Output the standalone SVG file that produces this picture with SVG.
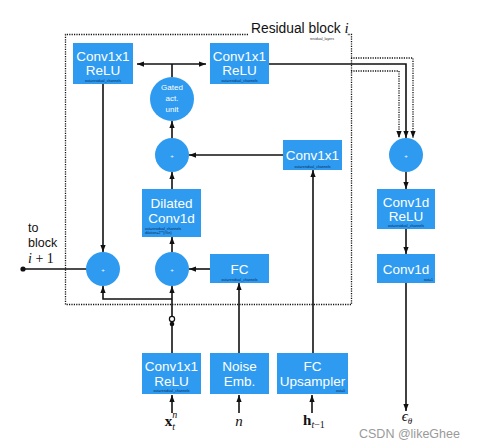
<svg xmlns="http://www.w3.org/2000/svg" width="478" height="446" viewBox="0 0 478 446">
<style>
.box{fill:#2E9BF0}
.t{font-family:"Liberation Sans",Arial,sans-serif;fill:#fff;text-anchor:middle}
.big{font-size:13.5px}
.sm{font-size:3.6px;fill:#0a2a55}
.smr{font-size:3.6px;fill:#0a2a55;text-anchor:end}
.ln{stroke:#111;stroke-width:1.6;fill:none}
.dot{stroke:#111;stroke-width:1.3;fill:none;stroke-dasharray:1.2,1.2}
.m{font-family:"Liberation Serif","Times New Roman",serif;fill:#111;text-anchor:middle}
</style>
<defs>
<marker id="ah" viewBox="0 0 8 6" refX="8" refY="3" markerWidth="7" markerHeight="6" markerUnits="userSpaceOnUse" orient="auto-start-reverse">
<path d="M0,0 L8,3 L0,6 z" fill="#111"/>
</marker>
</defs>
<rect width="478" height="446" fill="#fff"/>

<g id="residual-block-frame">
<path class="dot" d="M248,34.5 H65.5 V304.5 H351.5 V34.5 H347"/>
<text x="251" y="33" font-family="Liberation Sans,Arial,sans-serif" font-size="13.8" fill="#111">Residual block <tspan font-family="Liberation Serif,serif" font-style="italic" font-size="15">i</tspan></text>
<text x="322" y="39.5" font-family="Liberation Sans,Arial,sans-serif" font-size="3.6" fill="#333" text-anchor="middle">residual_layers</text>
</g>

<g id="connectors">
<line class="ln" x1="137" y1="64" x2="206" y2="64" marker-start="url(#ah)" marker-end="url(#ah)"/>
<line class="ln" x1="172" y1="64" x2="172" y2="77"/>
<line class="ln" x1="172" y1="138" x2="172" y2="121" marker-end="url(#ah)"/>
<line class="ln" x1="283" y1="155" x2="189" y2="155" marker-end="url(#ah)"/>
<line class="ln" x1="172" y1="189" x2="172" y2="172" marker-end="url(#ah)"/>
<line class="ln" x1="172" y1="252" x2="172" y2="237" marker-end="url(#ah)"/>
<line class="ln" x1="210" y1="269" x2="189" y2="269" marker-end="url(#ah)"/>
<line class="ln" x1="103" y1="84" x2="103" y2="252" marker-end="url(#ah)"/>
<line class="ln" x1="87" y1="269" x2="23" y2="269"/>
<circle cx="23" cy="269" r="2.6" fill="#111"/>
<line class="ln" x1="172" y1="353" x2="172" y2="324"/>
<circle cx="172" cy="324" r="2.3" fill="#111"/>
<circle cx="172" cy="319" r="2.6" fill="#fff" stroke="#111" stroke-width="1.2"/>
<line class="ln" x1="172" y1="316.4" x2="172" y2="286" marker-end="url(#ah)"/>
<path class="ln" d="M172,299 H103 V286" marker-end="url(#ah)"/>
<line class="ln" x1="239" y1="353" x2="239" y2="283" marker-end="url(#ah)"/>
<line class="ln" x1="313" y1="353" x2="313" y2="170" marker-end="url(#ah)"/>
<path class="ln" d="M269,64 H406 V138" marker-end="url(#ah)"/>
<path class="dot" d="M351,58 H413 V138" marker-end="url(#ah)"/>
<path class="dot" d="M351,71 H399 V138" marker-end="url(#ah)"/>
<line class="ln" x1="406" y1="172" x2="406" y2="189" marker-end="url(#ah)"/>
<line class="ln" x1="406" y1="229" x2="406" y2="254" marker-end="url(#ah)"/>
<line class="ln" x1="406" y1="283" x2="406" y2="411" marker-end="url(#ah)"/>
<line class="ln" x1="172" y1="413" x2="172" y2="395" marker-end="url(#ah)"/>
<line class="ln" x1="239" y1="413" x2="239" y2="395" marker-end="url(#ah)"/>
<line class="ln" x1="312" y1="413" x2="312" y2="395" marker-end="url(#ah)"/>
</g>

<g id="conv1x1-skip">
<rect class="box" x="73" y="43" width="60" height="41"/>
<text class="t big" x="103" y="61">Conv1x1</text>
<text class="t big" x="103" y="75">ReLU</text>
<text class="t sm" x="103" y="82">out=residual_channels</text>
</g>
<g id="conv1x1-res">
<rect class="box" x="210" y="43" width="59" height="41"/>
<text class="t big" x="239.5" y="61">Conv1x1</text>
<text class="t big" x="239.5" y="75">ReLU</text>
<text class="t sm" x="239.5" y="82">out=residual_channels</text>
</g>
<g id="gated-unit">
<circle class="box" cx="172" cy="99" r="22"/>
<text class="t" x="172" y="90" font-size="8">Gated</text>
<text class="t" x="172" y="101" font-size="8">act.</text>
<text class="t" x="172" y="112" font-size="8">unit</text>
</g>
<g id="add-upper">
<circle class="box" cx="172" cy="155" r="17"/>
<text class="t" x="172" y="157.5" font-size="6">+</text>
</g>
<g id="conv1x1-cond">
<rect class="box" x="283" y="140" width="59" height="30"/>
<text class="t big" x="312.5" y="160">Conv1x1</text>
<text class="t sm" x="312.5" y="168">out=residual_channels</text>
</g>
<g id="dilated-conv">
<rect class="box" x="142" y="189" width="59" height="48"/>
<text class="t big" x="171.5" y="208">Dilated</text>
<text class="t big" x="171.5" y="223">Conv1d</text>
<text class="sm" x="145" y="230" font-family="Liberation Sans,Arial,sans-serif">out=residual_channels</text>
<text class="sm" x="145" y="234" font-family="Liberation Sans,Arial,sans-serif">dilation=2**(i%n)</text>
</g>
<g id="add-skip">
<circle class="box" cx="103" cy="269" r="17"/>
<text class="t" x="103" y="271.5" font-size="6">+</text>
</g>
<g id="add-lower">
<circle class="box" cx="172" cy="269" r="17"/>
<text class="t" x="172" y="271.5" font-size="6">+</text>
</g>
<g id="fc">
<rect class="box" x="210" y="254" width="59" height="29"/>
<text class="t big" x="239.5" y="274">FC</text>
<text class="t sm" x="239.5" y="281">out=residual_channels</text>
</g>
<g id="to-next-block">
<text x="28" y="232" font-family="Liberation Sans,Arial,sans-serif" font-size="12.5" fill="#111">to</text>
<text x="28" y="247" font-family="Liberation Sans,Arial,sans-serif" font-size="12.5" fill="#111">block</text>
<text x="28" y="263" font-family="Liberation Serif,serif" font-size="14" fill="#111"><tspan font-style="italic">i</tspan> + 1</text>
</g>
<g id="add-out">
<circle class="box" cx="406" cy="155" r="17"/>
<text class="t" x="406" y="157.5" font-size="6">+</text>
</g>
<g id="conv1d-relu">
<rect class="box" x="377" y="189" width="58" height="40"/>
<text class="t big" x="406" y="207">Conv1d</text>
<text class="t big" x="406" y="221">ReLU</text>
<text class="t sm" x="406" y="227">out=residual_channels</text>
</g>
<g id="conv1d-out">
<rect class="box" x="377" y="254" width="58" height="29"/>
<text class="t big" x="406" y="274">Conv1d</text>
<text class="smr" x="433" y="281" font-family="Liberation Sans,Arial,sans-serif">out=1</text>
</g>
<g id="conv1x1-input">
<rect class="box" x="142" y="353" width="59" height="41"/>
<text class="t big" x="171.5" y="371">Conv1x1</text>
<text class="t big" x="171.5" y="386">ReLU</text>
<text class="t sm" x="171.5" y="392">out=residual_channels</text>
</g>
<g id="noise-emb">
<rect class="box" x="210" y="353" width="59" height="41"/>
<text class="t big" x="239.5" y="371">Noise</text>
<text class="t big" x="239.5" y="386">Emb.</text>
</g>
<g id="fc-upsampler">
<rect class="box" x="277" y="353" width="71" height="41"/>
<text class="t big" x="312.5" y="371">FC</text>
<text class="t big" x="312.5" y="386">Upsampler</text>
<text class="smr" x="345" y="392" font-family="Liberation Sans,Arial,sans-serif">out=0</text>
</g>
<g id="labels">
<text class="m" x="171" y="426" font-size="15"><tspan font-weight="bold">x</tspan><tspan font-style="italic" font-size="10" dy="-8">n</tspan><tspan font-style="italic" font-size="10" dx="-5" dy="12">t</tspan></text>
<text class="m" x="239" y="426" font-size="15" font-style="italic">n</text>
<text class="m" x="314" y="425" font-size="15"><tspan font-weight="bold">h</tspan><tspan font-style="italic" font-size="10" dy="3">t</tspan><tspan font-size="10">−1</tspan></text>
<text class="m" x="407" y="421" font-size="15"><tspan font-style="italic">ϵ</tspan><tspan font-style="italic" font-size="9" dy="2.5">θ</tspan></text>
<text x="359" y="438" font-family="Liberation Sans,Arial,sans-serif" font-size="12.5" fill="#9a9a9a">CSDN @likeGhee</text>
</g>
</svg>
